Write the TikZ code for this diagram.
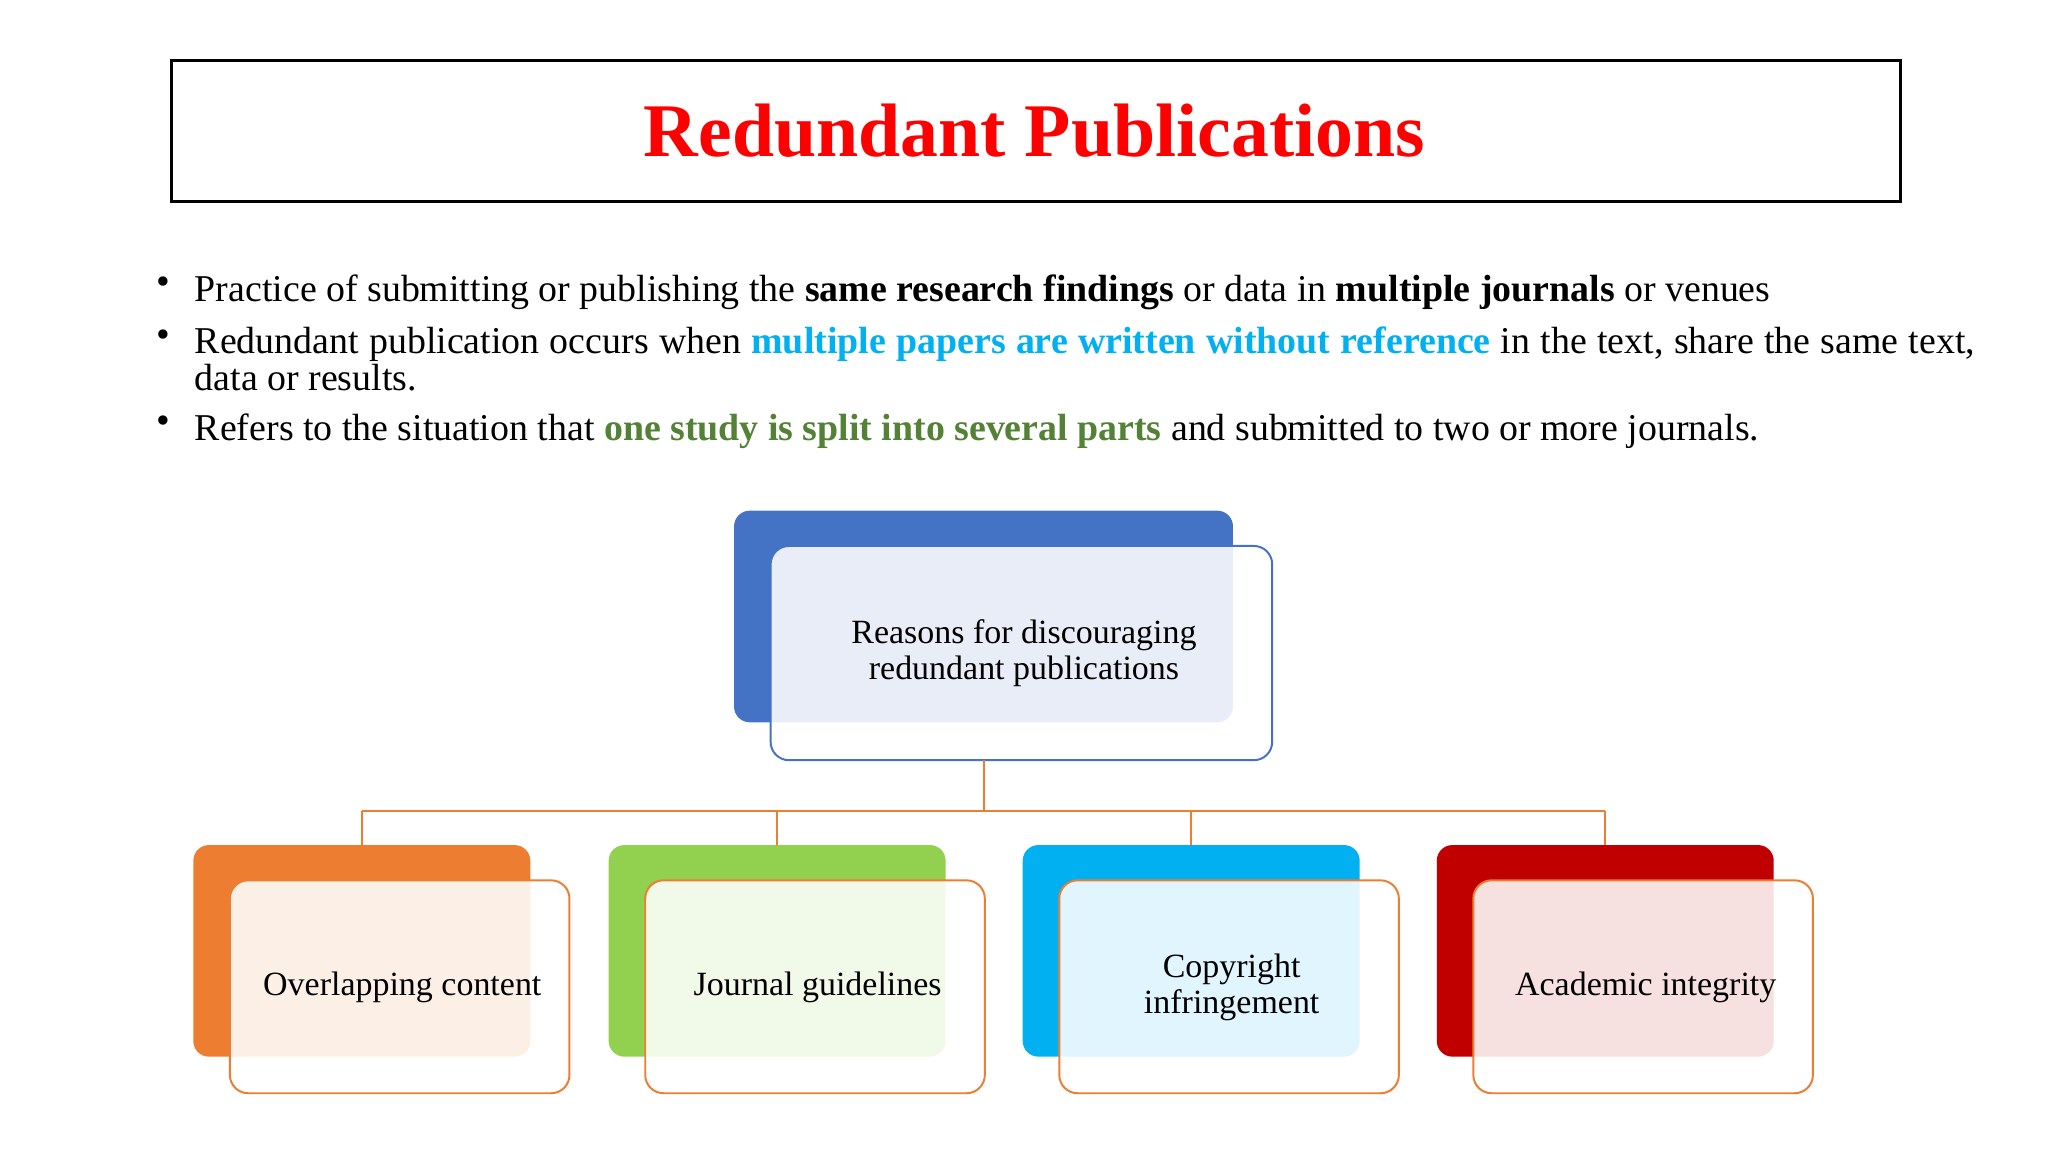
\documentclass[tikz,border=0pt]{standalone}
\usepackage{fontspec}
\setmainfont{Liberation Serif}
\definecolor{tred}{HTML}{FF0000}
\definecolor{cblue}{HTML}{00B0F0}
\definecolor{cgreen}{HTML}{538135}
\definecolor{hblue}{HTML}{4472C4}
\definecolor{korange}{HTML}{ED7D31}
\definecolor{kgreen}{HTML}{92D050}
\definecolor{kcyan}{HTML}{00B0F0}
\definecolor{kred}{HTML}{C00000}
\tikzset{
 back/.style={rounded corners=12pt,draw=none},
 front/.style={rounded corners=14pt,line width=1.5pt},
 lbl/.style={font=\fontsize{26}{28}\selectfont,align=center},
 conn/.style={korange,line width=1.5pt},
 btext/.style={anchor=base west,inner sep=0,text width=1363pt,font=\fontsize{29}{28}\selectfont,align=justify}
}
\begin{document}
\begin{tikzpicture}[x=1pt,y=-1pt]
\useasboundingbox (0,0) rectangle (1568,882);
\fill[white] (0,0) rectangle (1568,882);
\node[draw,line width=2.5pt,minimum width=1324pt,minimum height=108pt,anchor=north west,inner sep=0] (title) at (130,45) {};
\node[font=\fontsize{58}{60}\selectfont\bfseries,text=tred] (tt) at (792,100) {Redundant Publications};
\node[btext] (b1) at (149,231) {Practice of submitting or publishing the \textbf{same research findings} or data in \textbf{multiple journals} or venues};
\node[btext] (b2) at (149,271) {Redundant publication occurs when \textcolor{cblue}{\textbf{multiple papers are written without reference}} in the text, share the same text, data or results.};
\node[btext] (b3) at (149,337) {Refers to the situation that \textcolor{cgreen}{\textbf{one study is split into several parts}} and submitted to two or more journals.};
\foreach \y/\n in {219/d1,259/d2,325/d3} \node[font=\fontsize{30}{30}\selectfont] (\n) at (125,\y) {•};
% top
\fill[back,hblue] (562,391) rectangle (944,553);
\draw[front,hblue,fill=white,fill opacity=0.88] (590,418) rectangle (974,582);
\node[lbl] (top) at (784,500) {Reasons for discouraging\\redundant publications};
\coordinate (topb) at (753,582);
\coordinate (mid) at (753,621);
\draw[conn] (topb) -- (mid);
\draw[conn] (277,621) -- (1229,621);
\foreach \x/\c/\t/\n in {148/korange/{Overlapping content}/c1,466/kgreen/{Journal guidelines}/c2,783/kcyan/{Copyright\\infringement}/c3,1100/kred/{Academic integrity}/c4}{
 \draw[conn] (\x+129,621) -- (\x+129,647);
 \fill[back,\c] (\x,647) rectangle (\x+258,809);
 \draw[front,korange,fill=white,fill opacity=0.88] (\x+28,674) rectangle (\x+288,837);
 \node[lbl] (\n) at (\x+160,756) {\t};
}
\end{tikzpicture}
\end{document}
